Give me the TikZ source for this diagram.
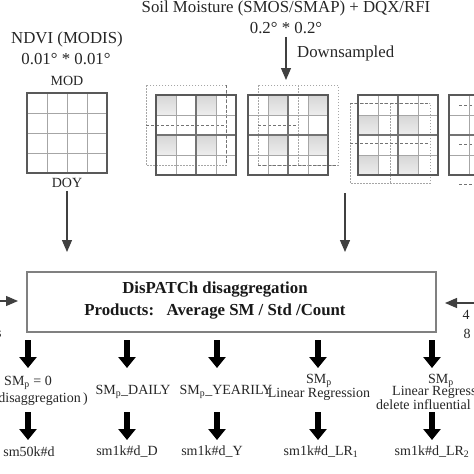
\documentclass[tikz,border=0pt]{standalone}
\usepackage{fontspec}
\setmainfont{Liberation Serif}
\usetikzlibrary{arrows.meta}
\begin{document}
\begin{tikzpicture}[x=1pt,y=-1pt,
  big/.style={inner sep=0pt, text=black!85, font=\fontsize{16.8}{18}\selectfont},
  mid/.style={inner sep=0pt, text=black!85, font=\fontsize{14}{16}\selectfont},
  sml/.style={inner sep=0pt, text=black!85, font=\fontsize{14}{16}\selectfont},
  boldtxt/.style={inner sep=0pt, text=black!90, font=\fontsize{16.8}{18}\selectfont\bfseries},
  garrow/.style={draw=black!75, line width=1.3pt, -{Triangle[width=10pt,length=12pt]}},
  blk/.style={draw=black, line width=6pt, -{Triangle[width=17pt,length=11pt]}},
  outerln/.style={draw=black!65, line width=1.3pt},
  innerln/.style={draw=black!35, line width=0.8pt},
  midln/.style={draw=black!55, line width=1.1pt},
  dotl/.style={draw=black!35, line width=0.7pt, dash pattern=on 1.5pt off 1.5pt},
  dashl/.style={draw=black!55, line width=0.9pt, dash pattern=on 3pt off 2pt},
  cellshade/.style={top color=black!16, bottom color=black!7},
  sgrid/.pic={
    \draw[innerln] (0,20)--(80,20) (0,60)--(80,60) (20,0)--(20,80) (60,0)--(60,80);
    \draw[midln] (0,40)--(80,40) (40,0)--(40,80);
    \draw[outerln] (0,0) rectangle (80,80);
  },
  mgrid/.pic={
    \draw[innerln] (0,20)--(80,20) (0,40)--(80,40) (0,60)--(80,60)
                   (20,0)--(20,80) (40,0)--(40,80) (60,0)--(60,80);
    \draw[outerln] (0,0) rectangle (80,80);
  }
]
\clip (0,0) rectangle (474,474);
\fill[white] (0,0) rectangle (474,474);

% ---- top texts ----
\node[big] (smtitle) at (286,8) {Soil Moisture (SMOS/SMAP) + DQX/RFI};
\node[big] (smres) at (286,28) {0.2° * 0.2°};
\node[big, anchor=west] (down) at (297,53) {Downsampled};
\node[big] (ndvi) at (67,39) {NDVI (MODIS)};
\node[big] (ndvires) at (66,59) {0.01° * 0.01°};
\node[mid] (mod) at (67,81) {MOD};
\node[mid] (doy) at (67,183) {DOY};

% ---- MOD grid ----
\pic at (27,93) {mgrid};

% ---- soil moisture grids: shading ----
\foreach \x/\y in {156/95,196/95,156/135,196/135,
                   268/95,308/95,268/135,308/135,
                   358/115,398/115,358/155,398/155}
  \shade[cellshade] (\x,\y) rectangle +(20,20);

% overlays (coarse pixels)
\draw[dotl] (146,85) rectangle (226,165);
\draw[dashl] (146,125)--(226,125) (226,85)--(226,165);
\draw[dotl] (258,85) rectangle (338,165) (298,85)--(298,165);
\draw[dashl] (258,125)--(298,125) (258,165)--(338,165);
\draw[dotl] (350,103) rectangle (430,183) (390,103)--(390,183);
\draw[dashl] (350,143)--(430,143) (350,103)--(430,103);
\draw[dashl] (459,105)--(474,105) (459,144)--(474,144) (459,184)--(474,184);

% grids
\pic at (156,95) {sgrid};
\pic at (248,95) {sgrid};
\pic at (358,95) {sgrid};
\pic at (449,95) {sgrid};

% ---- main box ----
\node[draw=black!50, line width=1.3pt, minimum width=409pt, minimum height=60pt, inner sep=0pt]
  (box) at (231.5,302) {};
\node[boldtxt] (t1) at (215,290) {DisPATCh disaggregation};
\node[boldtxt] (t2) at (215,312) {Products:\enspace\ Average SM / Std /Count};

% ---- gray arrows ----
\coordinate (doyend) at (67,252);
\draw[garrow, shorten <=3pt] (doy) -- (doyend);
\coordinate (dsend) at (286,80);
\draw[garrow, shorten <=3pt] (smres) -- (dsend);
\coordinate (gs) at (345,193);
\coordinate (ge) at (345,252);
\draw[garrow] (gs) -- (ge);
\coordinate (ls) at (-2,301);
\coordinate (le) at (18,301);
\draw[garrow] (ls) -- (le);
\coordinate (rs) at (476,303);
\coordinate (re) at (445,303);
\draw[garrow] (rs) -- (re);
\node[mid] (four) at (466,315) {4};
\node[mid] (eight) at (467,334) {8};
\node[mid, anchor=west] (sfrag) at (-4,334) {s};

% ---- first-row labels ----
\node[sml] (l1a) at (28,383) {SM\textsubscript{p} = 0};
\node[sml, anchor=east] (l1b) at (88,399) {(disaggregation\,)};
\node[sml] (l2) at (133,392) {SM\textsubscript{p}\_DAILY};
\node[sml] (l3) at (226,392) {SM\textsubscript{p}\_YEARILY};
\node[sml] (l4a) at (319,381) {SM\textsubscript{p}};
\node[sml] (l4b) at (319,394) {Linear Regression};
\node[sml] (l5a) at (441,381) {SM\textsubscript{p}};
\node[sml, anchor=west] (l5b) at (392,392) {Linear Regression};
\node[sml, anchor=west] (l5c) at (376,405) {delete influential};

% ---- second-row labels ----
\node[sml] (p1) at (29,452) {sm50k\#d};
\node[sml] (p2) at (127,452) {sm1k\#d\_D};
\node[sml] (p3) at (212,452) {sm1k\#d\_Y};
\node[sml] (p4) at (321,452) {sm1k\#d\_LR\textsubscript{1}};
\node[sml] (p5) at (432,452) {sm1k\#d\_LR\textsubscript{2}};

% ---- black block arrows ----
\foreach \i/\x in {1/28,2/127,3/217,4/318,5/432}{
  \coordinate (as\i) at (\x,340);
  \coordinate (ae\i) at (\x,368);
  \coordinate (bs\i) at (\x,412);
  \coordinate (be\i) at (\x,440);
  \draw[blk] (as\i) -- (ae\i);
  \draw[blk] (bs\i) -- (be\i);
}
\end{tikzpicture}
\end{document}
